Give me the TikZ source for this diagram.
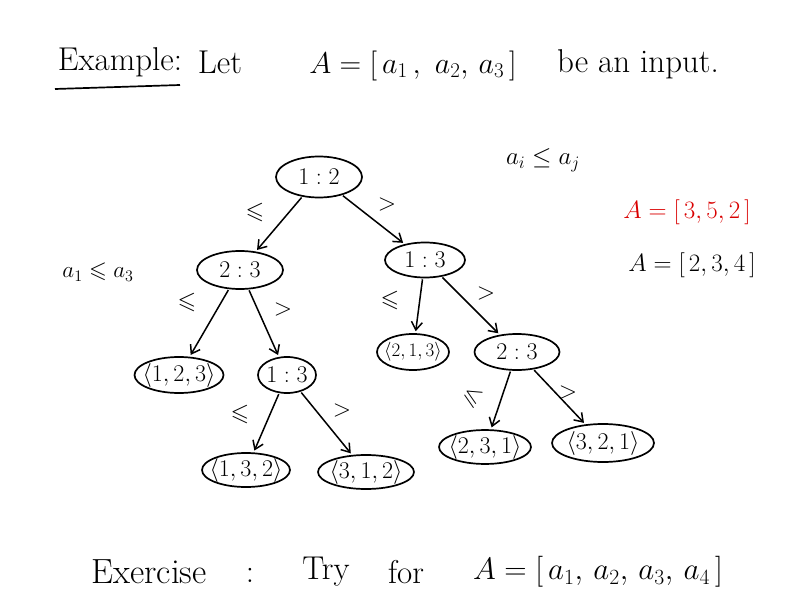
\RequirePackage{fix-cm}
\documentclass[tikz,border=0pt]{standalone}
\usepackage{amssymb}
\usetikzlibrary{shapes.geometric,arrows.meta}
\newcommand\tx[1]{\makebox[0pt]{$#1$}}
\begin{document}
\begin{tikzpicture}[x=1pt,y=-1pt,
  tn/.style={draw, ellipse, line width=1.7pt, inner sep=0pt, font=\fontsize{24}{26}\selectfont},
  arr/.style={line width=1.5pt, -{Straight Barb[length=8pt,width=11pt]}, shorten >=2pt, shorten <=1pt},
  lbl/.style={font=\fontsize{24}{26}\selectfont, inner sep=0pt},
  big/.style={font=\fontsize{33}{35}\selectfont, inner sep=0pt},
  mid/.style={font=\fontsize{25}{27}\selectfont, inner sep=0pt}]
\useasboundingbox (0,0) rectangle (790,615);
% title
\node[big] (ex) at (120,62) {Example:};
\draw[line width=1.7pt] (55,89) -- (180,85);
\node[big] (let) at (220,62) {Let};
\node[big, font=\fontsize{30}{32}\selectfont] (arr1) at (413,66) {$A=[\,a_1\,,\ a_2,\,a_3\,]$};
\node[big] (input) at (638,64) {be an input.};
% side notes
\node[mid] (aij) at (543,160) {$a_i\leq a_j$};
\node[mid, text=red!85!black] (red) at (687,212) {$A=[\,3,5,2\,]$};
\node[mid] (a234) at (692,265) {$A=[\,2,3,4\,]$};
\node[font=\fontsize{23}{25}\selectfont, inner sep=0pt] (a13) at (98,272) {$a_1\leqslant a_3$};
% tree
\node[tn, minimum width=86, minimum height=41] (r) at (319,177) {\tx{1:2}};
\node[tn, minimum width=86, minimum height=38] (l) at (240,270) {\tx{2:3}};
\node[tn, minimum width=80, minimum height=35] (rr) at (425,260) {\tx{1:3}};
\node[tn, minimum width=89, minimum height=36] (p123) at (179,375) {\tx{\langle 1,2,3\rangle}};
\node[tn, minimum width=58, minimum height=36] (lr) at (287,375) {\tx{1:3}};
\node[tn, minimum width=72, minimum height=36, font=\fontsize{19}{21}\selectfont] (p213) at (413,352) {\tx{\langle 2,1,3\rangle}};
\node[tn, minimum width=85, minimum height=36] (rrr) at (517,352) {\tx{2:3}};
\node[tn, minimum width=88, minimum height=34] (p132) at (246,470) {\tx{\langle 1,3,2\rangle}};
\node[tn, minimum width=96, minimum height=34] (p312) at (366,472) {\tx{\langle 3,1,2\rangle}};
\node[tn, minimum width=92, minimum height=30] (p231) at (485,447) {\tx{\langle 2,3,1\rangle}};
\node[tn, minimum width=102, minimum height=38] (p321) at (603,443) {\tx{\langle 3,2,1\rangle}};
% edges
\draw[arr] (r) -- (l);
\draw[arr] (r) -- (rr);
\draw[arr] (l) -- (p123);
\draw[arr] (l) -- (lr);
\draw[arr] (rr) -- (p213);
\draw[arr] (rr) -- (rrr);
\draw[arr] (lr) -- (p132);
\draw[arr] (lr) -- (p312);
\draw[arr] (rrr) -- (p231);
\draw[arr] (rrr) -- (p321);
% edge labels
\node[lbl] (e1) at (255,212) {$\leqslant$};
\node[lbl] (e2) at (387,205) {$>$};
\node[lbl] (e3) at (187,302) {$\leqslant$};
\node[lbl] (e4) at (283,309) {$>$};
\node[lbl] (e5) at (390,300) {$\leqslant$};
\node[lbl] (e6) at (486,293) {$>$};
\node[lbl] (e7) at (240,414) {$\leqslant$};
\node[lbl] (e8) at (342,410) {$>$};
\node[lbl, rotate=-30] (e9) at (472,397) {$\leqslant$};
\node[lbl] (e10) at (568,392) {$>$};
% exercise
\node[big, font=\fontsize{35}{37}\selectfont] (exc) at (149,572) {Exercise};
\node[big] (col) at (250,575) {:};
\node[big] (try) at (326,572) {Try};
\node[big] (for) at (406,572) {for};
\node[big, font=\fontsize{31}{33}\selectfont] (a4) at (598,572) {$A=[\,a_1,\,a_2,\,a_3,\,a_4\,]$};
\end{tikzpicture}
\end{document}
